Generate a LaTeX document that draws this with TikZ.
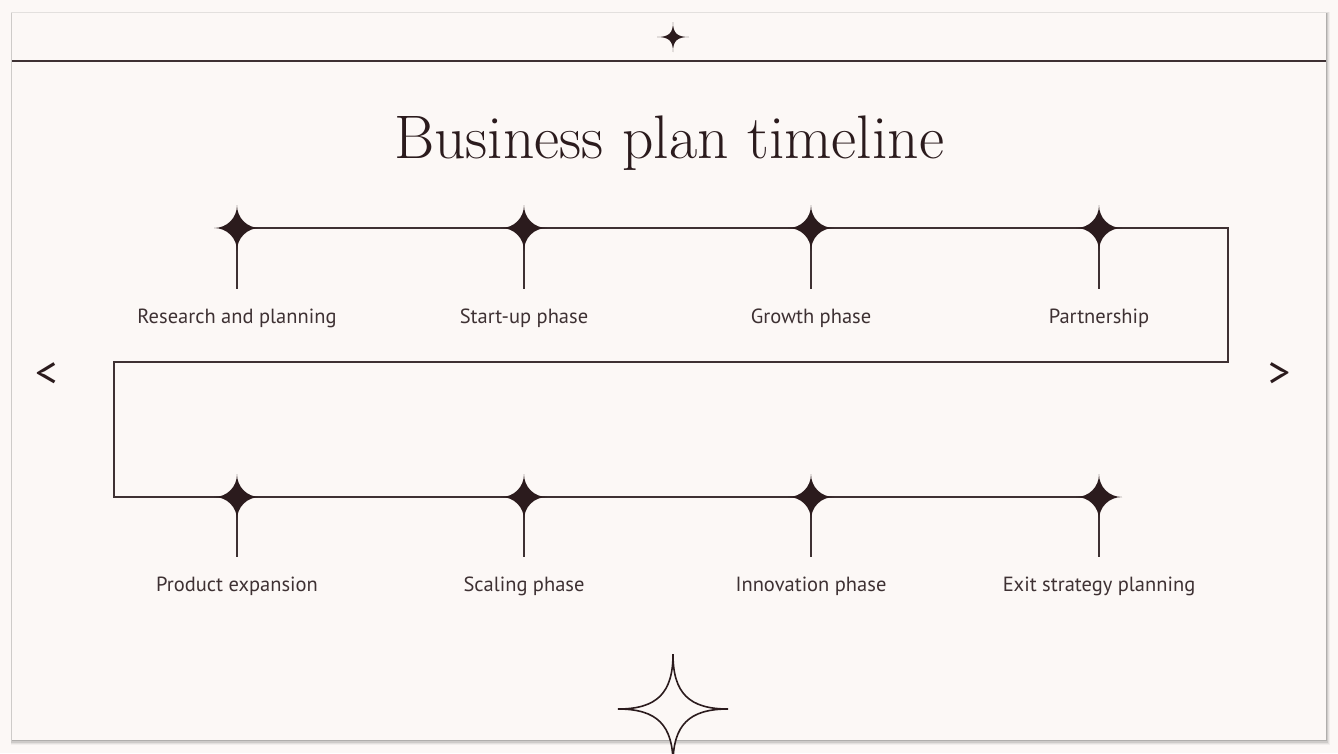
\documentclass[tikz,border=0pt]{standalone}
\usepackage{fontspec}
\usepackage{tikz}
\usetikzlibrary{positioning}
\newfontfamily\labelfont{PT Sans}
\definecolor{paper}{HTML}{FCF8F6}
\definecolor{ink}{HTML}{2B1B1D}
\definecolor{linec}{HTML}{3E3133}
\tikzset{
  font={\labelfont\fontsize{20.5pt}{24pt}\selectfont}}

\begin{document}
\begin{tikzpicture}[x=1pt, y=-1pt,
  wire/.style = {draw=linec, line width=1.6pt},
  lbl/.style = {text=linec, inner sep=0pt},
  arrowtxt/.style = {text=ink, font=\labelfont\fontsize{44pt}{44pt}\selectfont},
  starfill/.pic = {\fill[ink] (0,-23) .. controls (0,-10) and (10,0) .. (23,0) .. controls (10,0) and (0,10) .. (0,23) .. controls (0,10) and (-10,0) .. (-23,0) .. controls (-10,0) and (0,-10) .. cycle;},
  starsmall/.pic = {\fill[ink] (0,-15) .. controls (0,-4) and (4,0) .. (16,0) .. controls (4,0) and (0,4) .. (0,15) .. controls (0,4) and (-4,0) .. (-16,0) .. controls (-4,0) and (0,-4) .. cycle;},
  starbig/.pic = {\draw[ink, fill=paper, line width=1.6pt] (0,-55) .. controls (0,-16) and (16,0) .. (55,0) .. controls (16,0) and (0,16) .. (0,55) .. controls (0,16) and (-16,0) .. (-55,0) .. controls (-16,0) and (0,-16) .. cycle;}]
\useasboundingbox (0,0) rectangle (1338,753);
\fill[paper] (0,0) rectangle (1338,753);
% slide and its shadow
\foreach \d/\o in {4/0.04, 3/0.06, 2/0.09, 1/0.14}
  \fill[black, opacity=\o] ({12-\d*0.3},{13-\d*0.2}) rectangle ({1326+\d},{740+\d*1.3});
\fill[paper] (12,13) rectangle (1326,740);

% header
\coordinate (h1) at (12,61);
\coordinate (h2) at (1326,61);
\draw[wire, line width=2.4pt] (h1) -- (h2);
\pic at (673,37) {starsmall};

\node[text=ink, anchor=base, font=\rmfamily\fontsize{61.5pt}{62pt}\selectfont] (title) at (669,158) {Business plan timeline};

% steps
\foreach \i/\x/\txt in {1/237/Research and planning, 2/524/Start-up phase, 3/811/Growth phase, 4/1099/Partnership} {
  \coordinate (s\i) at (\x,228);
  \coordinate (t\i) at (\x,289);
  \node[lbl] (l\i) at (\x,318) {\txt};
}
\foreach \i/\x/\txt in {5/237/Product expansion, 6/524/Scaling phase, 7/811/Innovation phase, 8/1099/Exit strategy planning} {
  \coordinate (s\i) at (\x,497);
  \coordinate (t\i) at (\x,557);
  \node[lbl] (l\i) at (\x,586) {\txt};
}
\coordinate (c1) at (1228,228);
\coordinate (c2) at (1228,362);
\coordinate (c3) at (114,362);
\coordinate (c4) at (114,497);

\draw[wire] (s1) -- (s2) -- (s3) -- (s4) -- (c1) -- (c2) -- (c3) -- (c4) -- (s5) -- (s6) -- (s7) -- (s8);
\foreach \i in {1,...,8} {
  \draw[wire] (s\i) -- (t\i);
  \pic at (s\i) {starfill};
}

\node[arrowtxt] (prev) at (47,375) {<};
\node[arrowtxt] (next) at (1280,375) {>};

\pic at (673,709) {starbig};
\end{tikzpicture}
\end{document}
